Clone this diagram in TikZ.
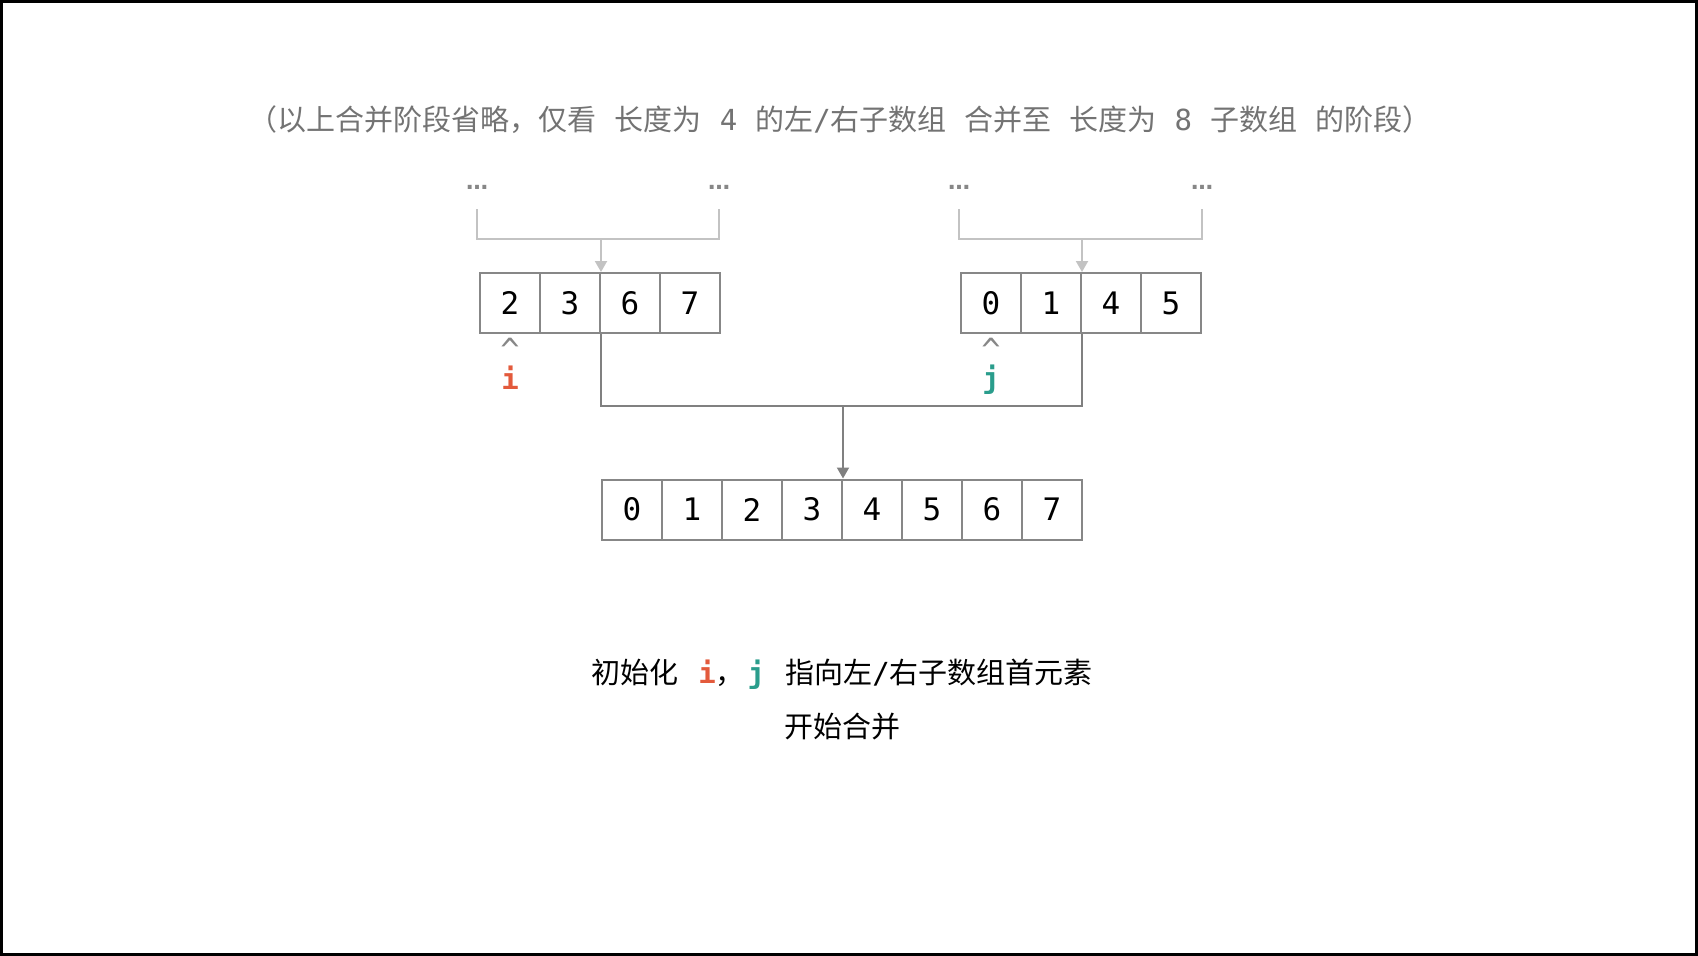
\documentclass[tikz,border=0pt]{standalone}
\usepackage{fontspec}
\setmainfont{Noto Sans CJK SC}
\setmonofont{DejaVu Sans Mono}
\newfontfamily\dotfont{DejaVu Sans}
\usepackage{tikz}
\usetikzlibrary{positioning}
\usetikzlibrary{calc}
\usetikzlibrary{arrows.meta}

\definecolor{boxgray}{HTML}{878787}
\definecolor{linegray}{HTML}{808080}
\definecolor{brackgray}{HTML}{C3C3C3}
\definecolor{capgray}{HTML}{737373}
\definecolor{ired}{HTML}{E35A3C}
\definecolor{jteal}{HTML}{2A9D8C}

\newcommand{\gap}{\hspace{0.7em}}
\newcommand{\cgap}{\hspace{0.62em}}
\newcommand{\code}[1]{{\ttfamily #1}}

\tikzset{
  cell/.style={draw=boxgray, line width=2pt, minimum size=60pt, inner sep=0pt, font=\ttfamily\fontsize{31pt}{31pt}\selectfont},
  dots/.style={text=boxgray, inner sep=0pt, font=\dotfont\bfseries\fontsize{22pt}{22pt}\selectfont},
  bracket/.style={draw=brackgray, line width=2pt},
  merge/.style={draw=linegray, line width=2pt},
  caret/.style={text=boxgray, inner sep=0pt, font=\ttfamily\fontsize{32pt}{32pt}\selectfont},
  ptr/.style={inner sep=0pt, font=\ttfamily\bfseries\fontsize{29pt}{29pt}\selectfont},
  caption/.style={text=capgray, inner sep=0pt, font=\fontsize{29pt}{34pt}\selectfont},
  note/.style={inner sep=0pt, align=center, font=\fontsize{29pt}{54pt}\selectfont},
  tip/.style={-{Triangle[length=11pt,width=12pt]}},
}

\begin{document}
\begin{tikzpicture}[x=1pt, y=-1pt]
\useasboundingbox (0,0) rectangle (1698,956);
\draw[line width=3pt] (1.5,1.5) rectangle (1696.5,954.5);

\node[caption] (cap) at (840,120) {（以上合并阶段省略，仅看\cgap 长度为\cgap\code{4}\cgap 的左\code{/}右子数组\cgap 合并至\cgap 长度为\cgap\code{8}\cgap 子数组\cgap 的阶段）};

% sub arrays
\foreach \v [count=\k] in {2,3,6,7}
  \node[cell] (l\k) at (450+60*\k,303) {\v};
\foreach \v [count=\k] in {0,1,4,5}
  \node[cell] (r\k) at (931+60*\k,303) {\v};
% merged array
\foreach \v [count=\k] in {0,...,7}
  \node[cell] (m\k) at (572+60*\k,509.5) {\v};

\node[dots] (ld1) at (477,187) {…};
\node[dots] (ld2) at (719,187) {…};
\node[dots] (rd1) at (959,187) {…};
\node[dots] (rd2) at (1202,187) {…};

\coordinate (lj) at (l2.north east |- 0,239);
\coordinate (rj) at (r2.north east |- 0,239);
\draw[bracket] ([yshift=-22pt]ld1.center) |- (lj) -| ([yshift=-22pt]ld2.center);
\draw[bracket] ([yshift=-22pt]rd1.center) |- (rj) -| ([yshift=-22pt]rd2.center);
\draw[bracket, tip] (lj) -- (l2.north east);
\draw[bracket, tip] (rj) -- (r2.north east);

% pointers
\node[caret] (ci) at (510,350) {\textasciicircum};
\node[ptr, text=ired] (pi) at (510,378) {i};
\node[caret] (cj) at (991,350) {\textasciicircum};
\node[ptr, text=jteal] (pj) at (991,380) {j};

\coordinate (mj) at (m4.north east |- 0,406);
\draw[merge] (l2.south east) |- (mj) -| (r2.south east);
\draw[merge, tip] (mj) -- (m4.north east);

\node[note] (msg) at (842,700) {初始化\gap{\color{ired}\code{\bfseries i}}，\hspace{0.1em}{\color{jteal}\code{\bfseries j}}\gap 指向左\code{/}右子数组首元素\\开始合并};
\end{tikzpicture}
\end{document}
